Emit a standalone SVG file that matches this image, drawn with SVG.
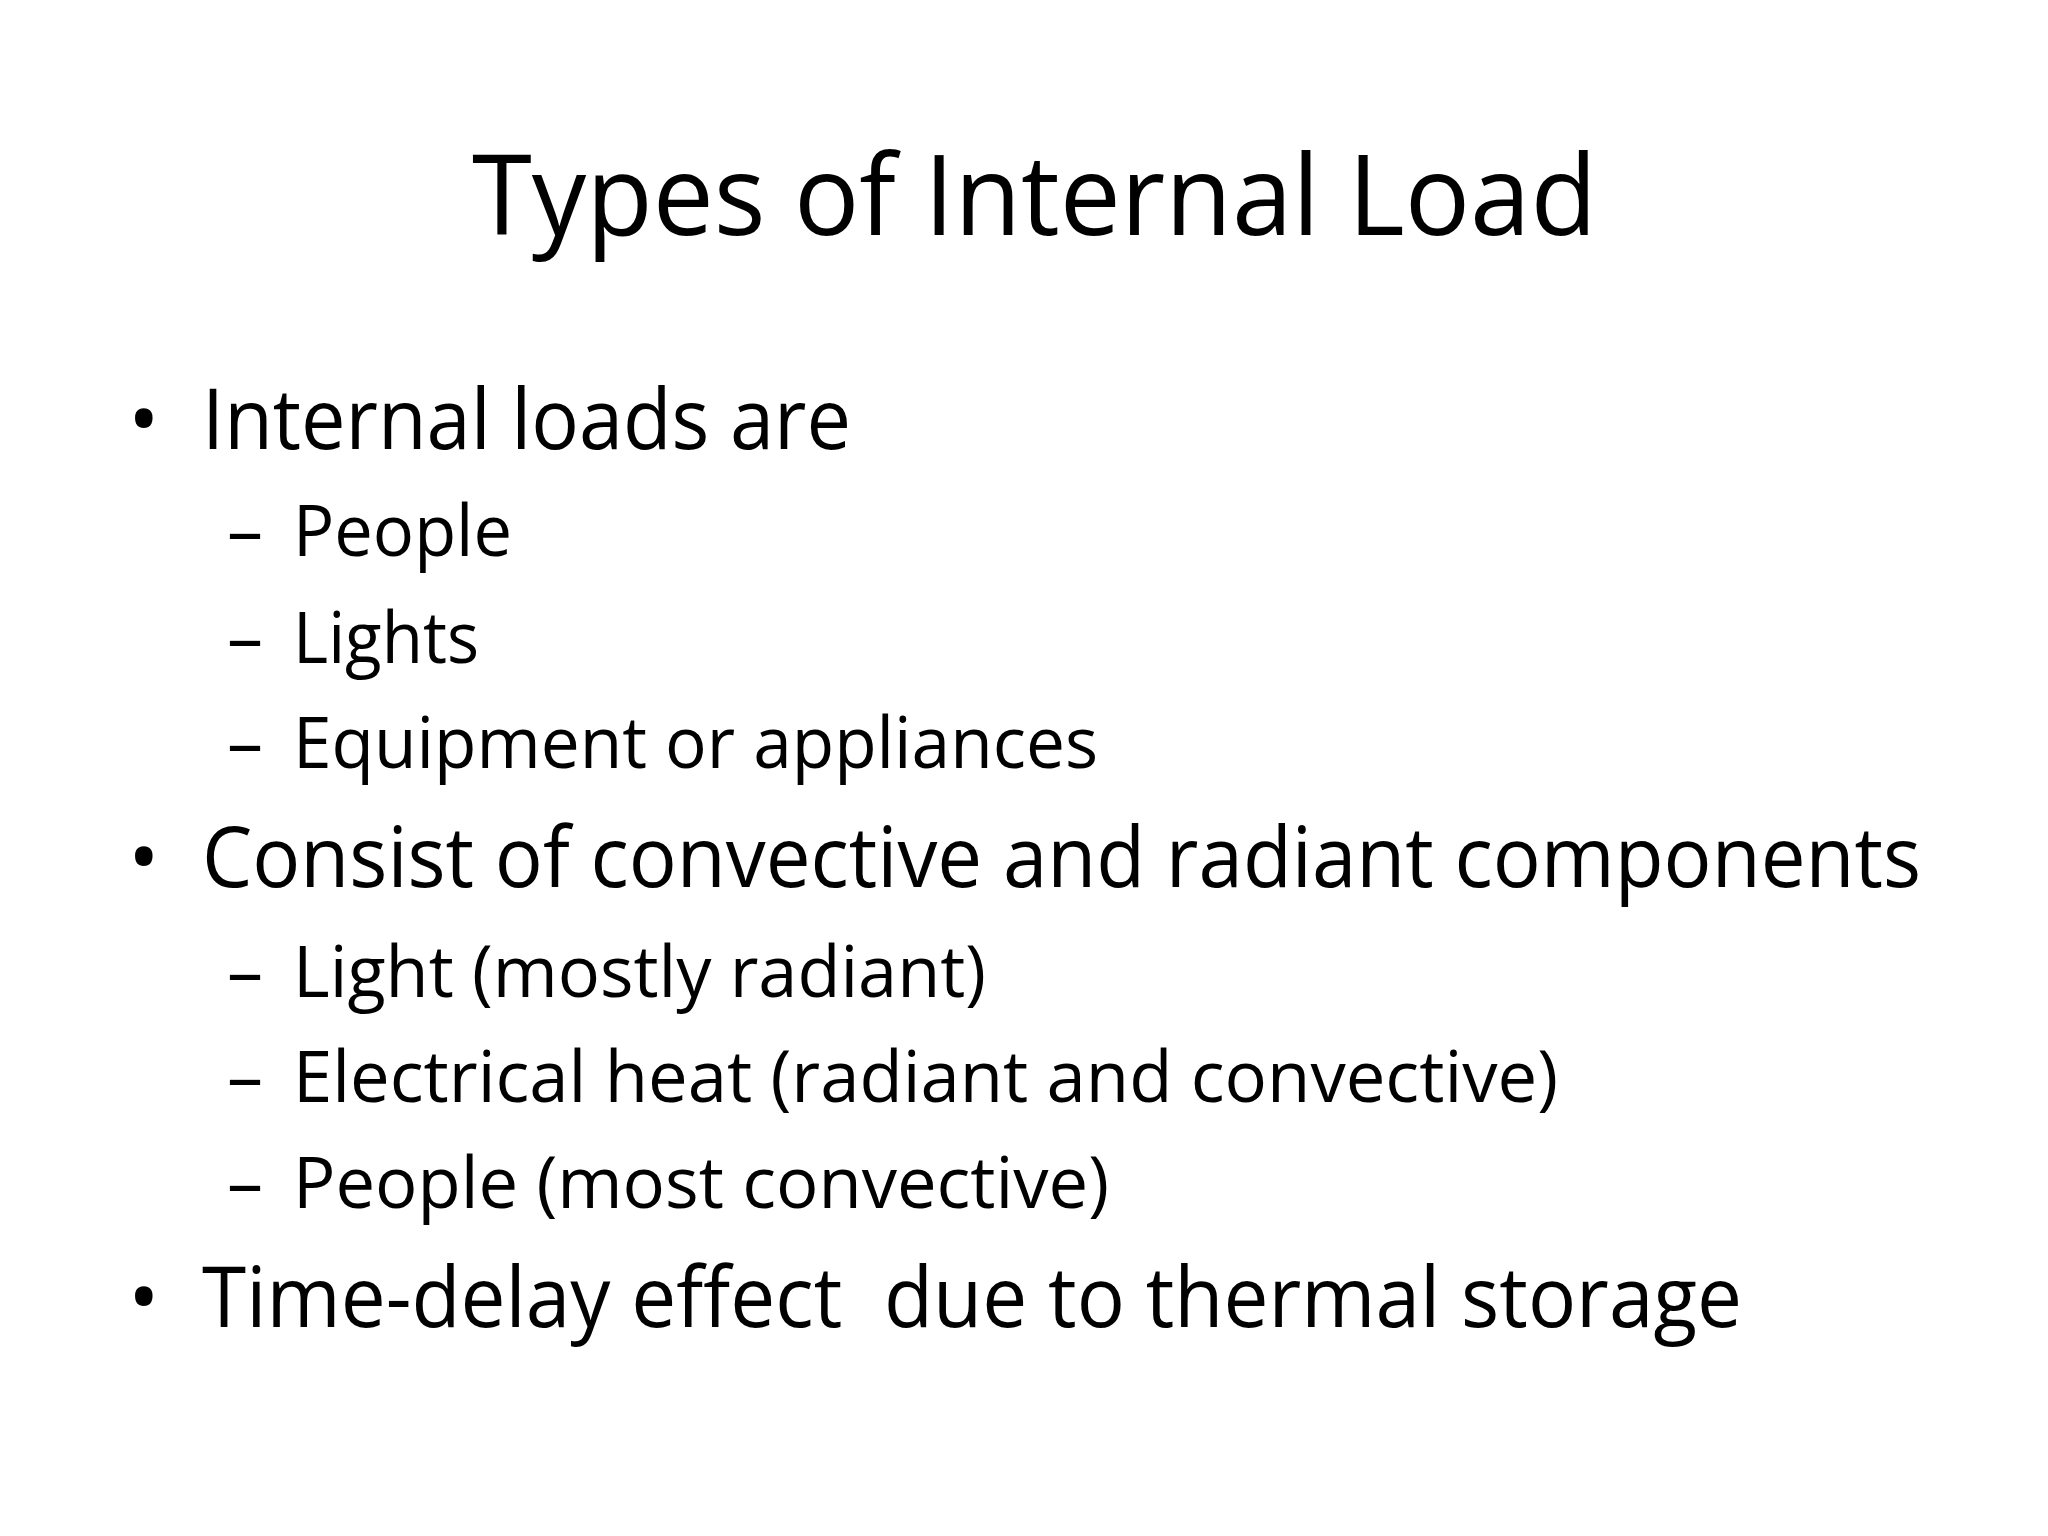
<svg xmlns="http://www.w3.org/2000/svg" width="2048" height="1536" viewBox="0 0 2048 1536">
<style>
text{font-family:"Open Sans","Noto Sans","Liberation Sans",sans-serif;fill:#000}
.t{font-size:112px}
.b{font-size:84px}
.s{font-size:72px}
</style>
<rect width="2048" height="1536" fill="#fff"/>
<g id="title"><text class="t" x="472" y="235" textLength="1125" lengthAdjust="spacingAndGlyphs">Types of Internal Load</text></g>
<g id="body">
<text class="b" x="128" y="449">•</text>
<text class="b" x="202" y="449" textLength="649" lengthAdjust="spacingAndGlyphs">Internal loads are</text>
<text class="s" x="227" y="556">–</text>
<text class="s" x="293" y="556" textLength="219" lengthAdjust="spacingAndGlyphs">People</text>
<text class="s" x="227" y="663">–</text>
<text class="s" x="293" y="663" textLength="186" lengthAdjust="spacingAndGlyphs">Lights</text>
<text class="s" x="227" y="768">–</text>
<text class="s" x="293" y="768" textLength="805" lengthAdjust="spacingAndGlyphs">Equipment or appliances</text>
<text class="b" x="128" y="887">•</text>
<text class="b" x="202" y="887" textLength="1719" lengthAdjust="spacingAndGlyphs">Consist of convective and radiant components</text>
<text class="s" x="227" y="997">–</text>
<text class="s" x="293" y="997" textLength="693" lengthAdjust="spacingAndGlyphs">Light (mostly radiant)</text>
<text class="s" x="227" y="1102">–</text>
<text class="s" x="293" y="1102" textLength="1265" lengthAdjust="spacingAndGlyphs">Electrical heat (radiant and convective)</text>
<text class="s" x="227" y="1208">–</text>
<text class="s" x="293" y="1208" textLength="816" lengthAdjust="spacingAndGlyphs">People (most convective)</text>
<text class="b" x="128" y="1327">•</text>
<text class="b" x="202" y="1327" textLength="1540" lengthAdjust="spacingAndGlyphs" xml:space="preserve">Time-delay effect  due to thermal storage</text>
</g>
</svg>
